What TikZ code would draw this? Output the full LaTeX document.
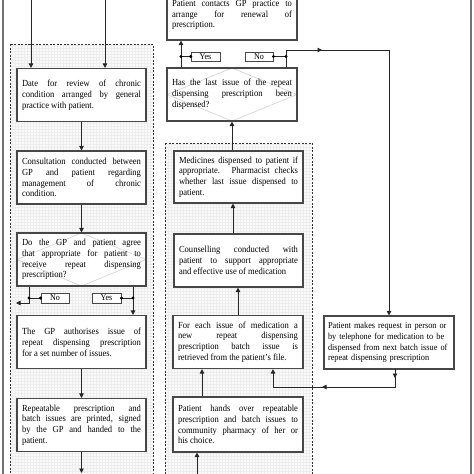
\documentclass[tikz,border=0pt]{standalone}
\usepackage{fontspec}
\setmainfont{Liberation Serif}[FakeStretch=0.92]
\usetikzlibrary{arrows.meta}
\newcommand{\boxfont}{\fontsize{9.3}{10.8}\selectfont\hyphenpenalty=10000\exhyphenpenalty=10000}
\begin{document}
\begin{tikzpicture}[x=1pt,y=-1pt,
 box/.style={draw=black!72,line width=1.1pt,fill=white,text width=119pt,inner xsep=5pt,inner ysep=2pt,minimum height=53pt,align=justify,font=\boxfont},
 dia/.style={box,path picture={\draw[black!18,line width=0.6pt] (path picture bounding box.west) -- (path picture bounding box.north) -- (path picture bounding box.east) -- (path picture bounding box.south) -- cycle;}},
 lbl/.style={draw=black!72,line width=0.9pt,fill=white,minimum width=28pt,minimum height=10pt,inner sep=0pt,font=\fontsize{8.8}{9}\selectfont},
 arr/.style={draw=black!85,line width=0.9pt,-{Triangle[length=4.5pt,width=4.5pt]}},
 ln/.style={draw=black!85,line width=0.9pt},
 dot/.style={circle,fill=black,inner sep=0pt,minimum size=3.4pt},
 region/.style={draw=black!80,line width=0.9pt,dash pattern=on 2pt off 1.5pt},
 frame/.style={draw=black!55,line width=1.2pt}]
\useasboundingbox (0,0) rectangle (474,474);
\clip (0,0) rectangle (474,474);
\fill[white] (0,0) rectangle (474,474);
% frame lines
\draw[frame] (3,-2) -- (3,476);
\draw[frame] (471,-2) -- (471,476);
% dashed regions with grid background
\begin{scope}
 \clip (10,44) rectangle (153,480) (165,143) rectangle (312,480);
 \fill[black!2] (0,0) rectangle (474,480);
 \draw[black!7,line width=0.3pt,step=3pt] (0,0) grid (474,480);
\end{scope}
\draw[region] (10,44) rectangle (153,480);
\draw[region] (165,143) rectangle (312,480);
% left column
\node[box] (date) at (81.5,95) {Date for review of chronic\linebreak condition arranged by general\linebreak practice with patient.};
\node[box] (consult) at (81.5,177.5) {Consultation conducted between\linebreak GP and patient regarding\linebreak management of chronic\linebreak condition.};
\node[dia] (agree) at (81.5,259.5) {Do the GP and patient agree\linebreak that appropriate for patient to\linebreak receive repeat dispensing\linebreak prescription?};
\node[box] (auth) at (81.5,342) {The GP authorises issue of\linebreak repeat dispensing prescription\linebreak for a set number of issues.};
\node[box] (repeatable) at (81.5,425) {Repeatable prescription and\linebreak batch issues are printed, signed\linebreak by the GP and handed to the\linebreak patient.};
% middle column
\node[box,text width=120pt,minimum height=50pt] (contacts) at (232,15) {Patient contacts GP practice to\linebreak arrange for renewal of\linebreak prescription.};
\node[dia,text width=120pt] (haslast) at (232,94.5) {Has the last issue of the repeat\linebreak dispensing prescription been\linebreak dispensed?};
\node[box,minimum height=52pt] (medicines) at (238.5,177) {Medicines dispensed to patient if\linebreak appropriate. Pharmacist checks\linebreak whether last issue dispensed to\linebreak patient.};
\node[box] (counsel) at (238.5,260.5) {Counselling conducted with\linebreak patient to support appropriate\linebreak and effective use of medication};
\node[box,text width=120pt] (foreach) at (238,342) {For each issue of medication a\linebreak new repeat dispensing\linebreak prescription batch issue is\linebreak retrieved from the patient’s file.};
\node[box,text width=120pt,minimum height=55pt] (hands) at (238,424.5) {Patient hands over repeatable\linebreak prescription and batch issues to\linebreak community pharmacy of her or\linebreak his choice.};
% right box
\node[box,text width=122pt,inner xsep=4pt,align=left,font=\fontsize{9}{10.8}\selectfont] (request) at (389,342.5) {Patient makes request in person or\\by telephone for medication to be\\dispensed from next batch issue of\\repeat dispensing prescription};
% labels
\node[lbl] (no1) at (55,298) {No};
\node[lbl,minimum width=29pt] (yes1) at (106.5,298) {Yes};
\node[lbl,minimum width=29pt,minimum height=9pt] (yes2) at (205.5,56.5) {Yes};
\node[lbl,minimum height=9pt] (no2) at (259,56.5) {No};
% coordinates
\coordinate (t1) at (31,0);
\coordinate (t2) at (105,0);
\coordinate (b1) at (81.5,473);
\coordinate (b2) at (197,474);
\coordinate (nl) at (29,303);
\coordinate (nlend) at (16,303);
\coordinate (yl) at (133,298);
\coordinate (yu) at (181,56.5);
\coordinate (nu) at (286,56.5);
\coordinate (nuTop) at (286,50);
\coordinate (rTop) at (389,50);
\coordinate (rMid) at (322,50);
\coordinate (qb) at (395,369);
\coordinate (qc) at (395,387);
\coordinate (qm) at (322,387);
\coordinate (qf) at (273,387);
% left connectors
\draw[arr] (t1) -- (t1 |- date.north);
\draw[arr] (t2) -- (t2 |- date.north);
\draw[arr] (date) -- (consult);
\draw[arr] (consult) -- (agree);
\draw[arr] (auth) -- (repeatable);
\draw[arr] (repeatable.south) -- (b1);
\draw[arr] (nl |- agree.south) -- (nl) -- (nlend);
\draw[ln] (nl |- no1) -- (no1.west);
\node[dot] at (nl |- no1) {};
\node[dot] at (no1.west) {};
\draw[arr] (yl |- agree.south) -- (yl |- auth.north);
\draw[ln] (yes1.east) -- (yl);
\node[dot] at (yes1.east) {};
\node[dot] at (yl) {};
% middle connectors
\draw[arr] (b2) -- (b2 |- hands.south);
\draw[arr] ([xshift=-36pt]hands.north) -- ([xshift=-36pt]hands.north |- foreach.south);
\draw[arr] (foreach.north) -- (foreach.north |- counsel.south);
\draw[arr] ([xshift=-5.5pt]counsel.north) -- ([xshift=-5.5pt]counsel.north |- medicines.south);
\draw[arr] (haslast.south |- medicines.north) -- (haslast.south);
\draw[arr] (yu |- haslast.north) -- (yu |- contacts.south);
\draw[ln] (yu) -- (yes2.west);
\node[dot] at (yu) {};
\node[dot] at (yes2.west) {};
\draw[arr] (nu |- haslast.north) -- (nuTop) -- (rTop) -- (rTop |- request.north);
\draw[arr] (nuTop) -- (rMid);
\draw[ln] (nu) -- (no2.east);
\node[dot] at (nu) {};
\node[dot] at (no2.east) {};
\draw[arr] (qb) -- (qc) -- (qf) -- (qf |- foreach.south);
\draw[arr] (qc) -- (qm);
\draw[arr] (qb) -- (395,378);
\end{tikzpicture}
\end{document}
